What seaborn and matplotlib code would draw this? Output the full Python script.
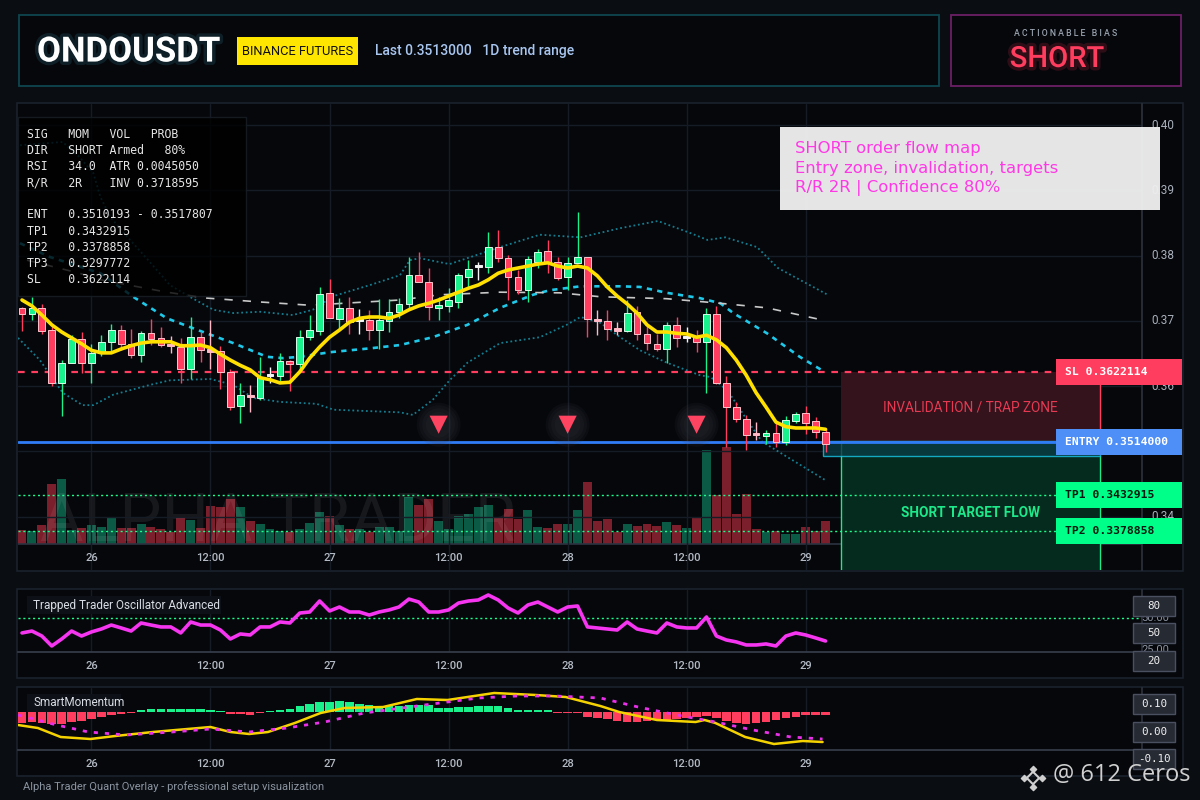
import matplotlib
matplotlib.use('Agg')
import matplotlib.pyplot as plt
import matplotlib.patheffects as pe
from matplotlib import transforms
from matplotlib.patches import Rectangle
import numpy as np
import seaborn as sns

W, H = 1200, 800

# ---- hourly candles (index 0 = 25th 17:00) ----
candle_open = [
    0.3720, 0.3711, 0.3720, 0.3686, 0.3605, 0.3636, 0.3672, 0.3636, 0.3651, 0.3668,
    0.3686, 0.3664, 0.3648, 0.3681, 0.3674, 0.3662, 0.3660, 0.3626, 0.3675, 0.3655,
    0.3654, 0.3622, 0.3570, 0.3585, 0.3582, 0.3615, 0.3616, 0.3639, 0.3634, 0.3676,
    0.3685, 0.3743, 0.3703, 0.3720, 0.3700, 0.3701, 0.3686, 0.3700, 0.3713, 0.3726,
    0.3770, 0.3760, 0.3720, 0.3723, 0.3729, 0.3767, 0.3782, 0.3783, 0.3813, 0.3796,
    0.3767, 0.3748, 0.3790, 0.3807, 0.3790, 0.3767, 0.3789, 0.3798, 0.3703, 0.3700,
    0.3688, 0.3685, 0.3714, 0.3680, 0.3665, 0.3657, 0.3694, 0.3674, 0.3676, 0.3667,
    0.3711, 0.3605, 0.3568, 0.3550, 0.3526, 0.3524, 0.3528, 0.3515, 0.3547, 0.3559,
    0.3547, 0.3530]
candle_high = [
    0.3722, 0.3737, 0.3726, 0.3694, 0.3640, 0.3678, 0.3683, 0.3665, 0.3678, 0.3695,
    0.3694, 0.3688, 0.3685, 0.3703, 0.3690, 0.3677, 0.3674, 0.3706, 0.3683, 0.3701,
    0.3662, 0.3626, 0.3605, 0.3602, 0.3645, 0.3630, 0.3651, 0.3640, 0.3686, 0.3709,
    0.3752, 0.3764, 0.3735, 0.3737, 0.3718, 0.3716, 0.3733, 0.3733, 0.3735, 0.3798,
    0.3806, 0.3781, 0.3737, 0.3750, 0.3774, 0.3793, 0.3790, 0.3836, 0.3839, 0.3801,
    0.3778, 0.3800, 0.3810, 0.3824, 0.3798, 0.3798, 0.3867, 0.3798, 0.3717, 0.3717,
    0.3698, 0.3732, 0.3723, 0.3694, 0.3680, 0.3698, 0.3706, 0.3690, 0.3686, 0.3720,
    0.3723, 0.3616, 0.3576, 0.3556, 0.3545, 0.3533, 0.3543, 0.3555, 0.3561, 0.3570,
    0.3553, 0.3535]
candle_low = [
    0.3685, 0.3701, 0.3680, 0.3600, 0.3554, 0.3636, 0.3620, 0.3605, 0.3646, 0.3652,
    0.3655, 0.3643, 0.3637, 0.3663, 0.3660, 0.3651, 0.3605, 0.3611, 0.3637, 0.3626,
    0.3596, 0.3564, 0.3544, 0.3560, 0.3579, 0.3605, 0.3605, 0.3593, 0.3625, 0.3671,
    0.3678, 0.3704, 0.3688, 0.3680, 0.3680, 0.3671, 0.3657, 0.3683, 0.3704, 0.3719,
    0.3760, 0.3701, 0.3702, 0.3713, 0.3719, 0.3750, 0.3763, 0.3773, 0.3790, 0.3732,
    0.3741, 0.3729, 0.3781, 0.3774, 0.3763, 0.3747, 0.3789, 0.3675, 0.3678, 0.3671,
    0.3678, 0.3683, 0.3671, 0.3655, 0.3654, 0.3635, 0.3660, 0.3668, 0.3652, 0.3590,
    0.3603, 0.3507, 0.3545, 0.3502, 0.3518, 0.3512, 0.3507, 0.3510, 0.3544, 0.3527,
    0.3521, 0.3499]
candle_close = [
    0.3711, 0.3720, 0.3685, 0.3605, 0.3636, 0.3672, 0.3636, 0.3651, 0.3668, 0.3686,
    0.3664, 0.3648, 0.3681, 0.3672, 0.3663, 0.3661, 0.3626, 0.3675, 0.3655, 0.3653,
    0.3622, 0.3568, 0.3587, 0.3583, 0.3614, 0.3616, 0.3639, 0.3634, 0.3676, 0.3686,
    0.3741, 0.3704, 0.3720, 0.3699, 0.3702, 0.3686, 0.3701, 0.3713, 0.3726, 0.3770,
    0.3760, 0.3721, 0.3724, 0.3732, 0.3770, 0.3779, 0.3784, 0.3813, 0.3796, 0.3767,
    0.3747, 0.3795, 0.3806, 0.3790, 0.3766, 0.3789, 0.3798, 0.3703, 0.3700, 0.3688,
    0.3685, 0.3712, 0.3680, 0.3666, 0.3657, 0.3694, 0.3674, 0.3676, 0.3668, 0.3711,
    0.3605, 0.3568, 0.3550, 0.3525, 0.3525, 0.3528, 0.3515, 0.3548, 0.3558, 0.3544,
    0.3530, 0.3512]
volume = [
    14, 13, 19, 60, 65, 14, 16, 19, 17, 27, 16, 16, 20, 17, 15, 12, 26, 24, 16, 38,
    37, 45, 37, 23, 20, 15, 13, 12, 15, 21, 32, 28, 19, 15, 15, 12, 17, 17, 13, 47,
    39, 45, 23, 15, 28, 30, 37, 39, 27, 35, 25, 34, 17, 16, 20, 20, 34, 62, 23, 25,
    12, 20, 18, 20, 18, 22, 19, 16, 27, 94, 49, 97, 30, 50, 15, 12, 13, 10, 10, 17,
    13, 23]

# fast average (yellow), one value per candle
fast_ma = [
    0.3732, 0.3723, 0.3709, 0.3694, 0.3683, 0.3674, 0.3665, 0.3655, 0.3651, 0.3651,
    0.3657, 0.3662, 0.3666, 0.3668, 0.3668, 0.3668, 0.3662, 0.3662, 0.3663, 0.3659,
    0.3649, 0.3640, 0.3632, 0.3625, 0.3613, 0.3610, 0.3605, 0.3606, 0.3622, 0.3643,
    0.3660, 0.3675, 0.3686, 0.3698, 0.3704, 0.3706, 0.3706, 0.3704, 0.3709, 0.3717,
    0.3723, 0.3727, 0.3732, 0.3738, 0.3744, 0.3750, 0.3755, 0.3763, 0.3773, 0.3778,
    0.3781, 0.3784, 0.3787, 0.3789, 0.3784, 0.3781, 0.3784, 0.3781, 0.3769, 0.3752,
    0.3738, 0.3726, 0.3712, 0.3694, 0.3683, 0.3683, 0.3681, 0.3680, 0.3675, 0.3678,
    0.3671, 0.3659, 0.3640, 0.3617, 0.3590, 0.3568, 0.3545, 0.3538, 0.3536, 0.3536,
    0.3536, 0.3534]

# bands read at sample points (candle index, price)
upper_x = [-0.2, 4.1, 5.8, 7.2, 7.9, 8.9, 10.9, 12.9, 14.9, 16.9, 19.3, 21.3, 24.0, 27.3,
           29.3, 31.4, 35.1, 38.1, 39.1, 40.1, 43.1, 48.2, 52.2, 56.3, 60.3, 64.1, 67.3,
           69.1, 70.9, 74.1, 76.2, 78.4, 81.1]
upper_y = [0.3969, 0.3974, 0.3951, 0.3926, 0.3890, 0.3859, 0.3824, 0.3790, 0.3755, 0.3737,
           0.3717, 0.3712, 0.3714, 0.3709, 0.3717, 0.3738, 0.3755, 0.3770, 0.3793, 0.3796,
           0.3787, 0.3813, 0.3832, 0.3828, 0.3842, 0.3853, 0.3835, 0.3824, 0.3828, 0.3813,
           0.3781, 0.3763, 0.3741]
lower_x = [-0.4, 1.8, 4.1, 6.1, 7.2, 9.2, 12.9, 14.9, 19.0, 21.3, 23.3, 26.0, 29.7, 31.4,
           38.1, 39.4, 41.4, 43.1, 44.9, 48.2, 52.2, 54.9, 56.3, 58.3, 60.3, 62.3, 65.0,
           68.3, 69.4, 71.1, 73.1, 74.6, 77.1, 81.1]
lower_y = [0.3674, 0.3640, 0.3590, 0.3571, 0.3571, 0.3587, 0.3602, 0.3609, 0.3611, 0.3602,
           0.3582, 0.3576, 0.3573, 0.3564, 0.3560, 0.3556, 0.3579, 0.3609, 0.3636, 0.3666,
           0.3675, 0.3694, 0.3706, 0.3697, 0.3675, 0.3655, 0.3636, 0.3617, 0.3614, 0.3594,
           0.3548, 0.3515, 0.3492, 0.3455]
mid_x = [-0.2, 2.8, 7.9, 11.2, 14.6, 17.9, 21.3, 24.7, 26.3, 28.0, 31.0, 35.1, 38.1, 41.4,
         44.9, 48.2, 51.5, 53.2, 56.3, 60.3, 62.3, 65.0, 68.3, 70.4, 71.7, 75.1, 78.4, 80.9]
mid_y = [0.3819, 0.3798, 0.3773, 0.3737, 0.3704, 0.3685, 0.3666, 0.3645, 0.3643, 0.3645,
         0.3652, 0.3658, 0.3663, 0.3675, 0.3694, 0.3720, 0.3740, 0.3747, 0.3753, 0.3753,
         0.3752, 0.3743, 0.3735, 0.3727, 0.3712, 0.3681, 0.3645, 0.3622]
slow_x = [0.5, 5.8, 7.9, 14.6, 18.6, 24.0, 29.0, 38.1, 42.1, 48.2, 54.2, 58.3, 65.0, 70.4,
          75.1, 81.1]
slow_y = [0.3793, 0.3773, 0.3763, 0.3744, 0.3735, 0.3729, 0.3724, 0.3732, 0.3740, 0.3744,
          0.3743, 0.3737, 0.3734, 0.3727, 0.3720, 0.3700]

# trade plan levels
sl_price = 0.3622114
entry_price = 0.3514000
tp1_price = 0.3432915
tp2_price = 0.3378858
entry_zone = (0.3493, 0.3516)
signal_idx = [42, 55, 68]
signal_price = 0.3541

# Trapped Trader Oscillator, one value per candle
osc = [
    38.3, 39.8, 35.9, 28.1, 33.6, 39.8, 35.9, 39.1, 41.4, 44.5,
    42.2, 39.8, 46.1, 44.5, 43.0, 43.0, 38.3, 46.9, 44.5, 44.5,
    40.6, 33.6, 37.5, 36.7, 43.0, 43.0, 46.9, 46.1, 53.9, 54.7,
    63.3, 55.5, 58.6, 54.7, 54.7, 52.3, 54.7, 56.3, 58.6, 64.8,
    62.5, 54.7, 54.7, 56.3, 61.7, 63.3, 64.1, 68.0, 64.1, 57.8,
    53.9, 60.2, 62.5, 58.6, 54.7, 58.6, 59.4, 43.0, 42.2, 41.4,
    40.6, 46.9, 41.4, 39.8, 38.3, 46.1, 43.0, 42.2, 42.2, 50.8,
    35.9, 32.8, 31.3, 28.9, 28.9, 29.7, 28.1, 35.9, 38.3, 36.7,
    34.4, 32.0]

# SmartMomentum
mom_hist = [
    -0.011, -0.010, -0.011, -0.012, -0.012, -0.010, -0.009, -0.007, -0.005, -0.003,
    -0.002, -0.001, 0.002, 0.003, 0.003, 0.003, 0.003, 0.003, 0.003, 0.002,
    0.001, -0.002, -0.002, -0.003, -0.001, 0.001, 0.002, 0.003, 0.006, 0.008,
    0.010, 0.010, 0.011, 0.010, 0.008, 0.007, 0.006, 0.006, 0.006, 0.007,
    0.007, 0.007, 0.004, 0.004, 0.005, 0.005, 0.006, 0.006, 0.006, 0.004,
    0.002, 0.002, 0.002, 0.002, -0.001, -0.001, -0.001, -0.005, -0.006, -0.007,
    -0.009, -0.010, -0.010, -0.009, -0.008, -0.008, -0.007, -0.006, -0.005, -0.004,
    -0.006, -0.009, -0.011, -0.012, -0.011, -0.010, -0.008, -0.006, -0.005, -0.003,
    -0.003, -0.003]
mom_fast_x = [-0.4, 1.6, 3.9, 6.9, 9.4, 13.2, 19, 21, 22.9, 24.8, 27.5, 30.1, 32.5, 36.4,
              39.8, 42.9, 47.6, 51.8, 54.8, 58.3, 60.2, 64, 67.9, 68.8, 69.9, 72.9, 75.8,
              78.7, 80.7]
mom_fast_y = [-0.013, -0.016, -0.025, -0.027, -0.024, -0.020, -0.015, -0.020, -0.022, -0.020,
              -0.011, -0.001, 0.004, 0.005, 0.013, 0.012, 0.019, 0.017, 0.015, 0.006,
              0.0, -0.008, -0.010, -0.008, -0.011, -0.025, -0.032, -0.029, -0.030]
mom_slow_x = [-0.4, 3.5, 6.7, 10.5, 15.1, 19, 22.9, 26.7, 30.5, 34.5, 38.3, 42.1, 46, 49.9,
              53.7, 58.3, 62.1, 66, 69.9, 73.7, 77.5, 80.7]
mom_slow_y = [-0.003, -0.013, -0.020, -0.023, -0.020, -0.017, -0.020, -0.016, -0.010, -0.001,
              0.004, 0.009, 0.014, 0.016, 0.016, 0.014, 0.005, -0.003, -0.010, -0.018,
              -0.025, -0.027]

tick_pos = [7, 19, 31, 43, 55, 67, 79]
tick_labels = ['26', '12:00', '27', '12:00', '28', '12:00', '29']
price_ticks = [0.34, 0.35, 0.36, 0.37, 0.38, 0.39, 0.40]

info_lines = [
    'SIG   MOM   VOL   PROB',
    'DIR   SHORT Armed   80%',
    'RSI   34.0  ATR 0.0045050',
    'R/R   2R    INV 0.3718595',
    '',
    'ENT   0.3510193 - 0.3517807',
    'TP1   0.3432915',
    'TP2   0.3378858',
    'TP3   0.3297772',
    'SL    0.3622114',
]
note_lines = ['SHORT order flow map', 'Entry zone, invalidation, targets',
              'R/R 2R | Confidence 80%']

# ---- style ----
BG = '#0a0d12'
PANEL = '#05070b'
GRID = '#161c25'
GREEN = '#19f28c'
RED = '#ff3d5e'
MONO = 'DejaVu Sans Mono'

sns.set_theme(style='dark', rc={'figure.facecolor': BG, 'axes.facecolor': PANEL,
                                'savefig.facecolor': BG})
plt.rcParams['font.family'] = ['Roboto', 'DejaVu Sans']


def fx(px):
    return px / W


def fy(py):
    return 1 - py / H


fig = plt.figure(figsize=(12, 8), dpi=100)

# background layer in pixel units
ax_bg = fig.add_axes([0, 0, 1, 1], zorder=-10)
ax_bg.set_xlim(0, W)
ax_bg.set_ylim(H, 0)
ax_bg.axis('off')
for (x0, y0, x1, y1) in [(17, 103, 1183, 571), (17, 589, 1183, 678), (17, 687, 1183, 776)]:
    ax_bg.add_patch(Rectangle((x0, y0), x1 - x0, y1 - y0, facecolor=PANEL, edgecolor='#1b222c', lw=1.2))
ax_bg.add_patch(Rectangle((19, 15), 920, 71, facecolor=PANEL, edgecolor='#0e4650', lw=1.3))
ax_bg.add_patch(Rectangle((951, 15), 230, 71, facecolor=PANEL, edgecolor='#6c1f66', lw=1.3))

# ---- main price panel ----
ymin, ymax = 0.33185, 0.40322
ax = fig.add_axes([fx(18), fy(570), (1142 - 18) / W, (570 - 104) / H])
ax.set_facecolor(PANEL)
ax.set_xlim(-0.403, 112.9)
ax.set_ylim(ymin, ymax)
ax.set_xticks([])
ax.set_yticks([])
for s in ['top', 'left', 'bottom']:
    ax.spines[s].set_visible(False)
ax.spines['right'].set_color('#2a303b')
for p in price_ticks:
    ax.axhline(p, color=GRID, lw=1, zorder=0)
for t in tick_pos:
    ax.axvline(t, color=GRID, lw=1, zorder=0)

blend_fd = transforms.blended_transform_factory(fig.transFigure, ax.transData)
blend_df = transforms.blended_transform_factory(ax.transData, fig.transFigure)
px_to_price = (ymax - ymin) / 466.0

# volume on a twin axis
idx = np.arange(len(candle_open))
up = np.array(candle_close) >= np.array(candle_open)
ax_vol = ax.twinx()
ax_vol.set_ylim(-26, 440)
ax_vol.set_yticks([])
for s in ax_vol.spines.values():
    s.set_visible(False)
ax_vol.bar(idx, volume, width=0.9, color=np.where(up, '#0b5a46', '#7a1f2b'),
           edgecolor='none', linewidth=0, zorder=1)
ax_vol.axhline(0, color='#2c3340', lw=1.2)
ax_vol.text(fx(40), fy(541), 'ALPHA TRADER', transform=fig.transFigure, fontsize=48,
            color='white', alpha=0.07, va='baseline', ha='left')

ax.set_zorder(ax_vol.get_zorder() + 1)
ax.patch.set_visible(False)
ax_vol.set_facecolor(PANEL)

# zones
ax.add_patch(Rectangle((82.56, entry_price), 26.1, sl_price - entry_price,
                       facecolor='#34131d', edgecolor='none', zorder=1))
ax.add_patch(Rectangle((82.56, ymin), 26.1, entry_price - ymin,
                       facecolor='#042b1d', edgecolor='none', zorder=1))
ax.plot([108.7, 108.7], [entry_price, sl_price], color=RED, lw=1, zorder=2)
ax.plot([82.56, 82.56], [ymin, entry_price], color='#1de88a', lw=1, zorder=2)
ax.plot([108.7, 108.7], [ymin, entry_zone[0]], color='#1de88a', lw=1, zorder=2)
ax.add_patch(Rectangle((80.7, entry_zone[0]), 28.0, entry_zone[1] - entry_zone[0],
                       facecolor='#0a3b45', edgecolor='#19c8e8', lw=1, alpha=0.8, zorder=3))
ax.text(95.6, 0.3568, 'INVALIDATION / TRAP ZONE', color='#e63a52', fontsize=9.8,
        ha='center', va='center', zorder=4)
ax.text(95.6, 0.3406, 'SHORT TARGET FLOW', color='#1de88a', fontsize=9.8, weight='bold',
        ha='center', va='center', zorder=4)

# bands and averages
sns.lineplot(x=upper_x, y=upper_y, ax=ax, color='#167d90', lw=1.3, linestyle=(0, (1, 1.5)),
             estimator=None, sort=False, zorder=3)
sns.lineplot(x=lower_x, y=lower_y, ax=ax, color='#167d90', lw=1.3, linestyle=(0, (1, 1.5)),
             estimator=None, sort=False, zorder=3)
sns.lineplot(x=mid_x, y=mid_y, ax=ax, color='#1fc8e8', lw=1.9, linestyle=(0, (2, 2)),
             estimator=None, sort=False, zorder=3)
sns.lineplot(x=slow_x, y=slow_y, ax=ax, color='#c8c8c8', lw=1.2, linestyle=(0, (5, 6)),
             estimator=None, sort=False, zorder=3)

# level lines
ax.plot([-0.403, 104.2], [sl_price, sl_price], color=RED, lw=1.6, ls=(0, (3, 3)), zorder=4)
ax.plot([-0.403, 104.2], [entry_price, entry_price], color='#2f7cf6', lw=2, zorder=4)
for tp in (tp1_price, tp2_price):
    ax.plot([-0.403, 104.2], [tp, tp], color='#1aff8c', lw=1, ls=(0, (1.5, 2)), zorder=4)

# candles
for i in idx:
    o, h, l, c = candle_open[i], candle_high[i], candle_low[i], candle_close[i]
    doji = abs(c - o) < 0.0004
    if doji:
        col = '#f4f4f4' if c >= o else '#ffb8c6'
        edge = col
    else:
        col = GREEN if c >= o else RED
        edge = '#d8ffe9' if c >= o else '#ffc2cc'
    ax.vlines(i, l, h, color=col, lw=1, zorder=5)
    body = max(abs(c - o), 0.00035)
    ax.bar(i, body, bottom=min(o, c), width=0.68, color=col, edgecolor=edge, lw=0.7, zorder=6)

sns.lineplot(x=idx, y=fast_ma, ax=ax, color='#ffe000', lw=2.6, estimator=None, sort=False, zorder=7)

# signal markers with a soft glow
for k in range(4):
    ax.scatter(signal_idx, [signal_price] * 3, s=1000 - k * 220, color='#3a3c46', alpha=0.12,
               edgecolor='none', zorder=7)
ax.scatter(signal_idx, [signal_price] * 3, marker='v', s=170, color='#ff4461',
           edgecolor='none', zorder=8)
ax.set_xlabel('')
ax.set_ylabel('')

# x labels inside the main panel
for t, lab in zip(tick_pos, tick_labels):
    ax.text(t, fy(558), lab, transform=blend_df, ha='center', va='center', color='#b4bac4',
            fontsize=8, weight='medium', zorder=9)

# price labels on the right
for p in price_ticks:
    ax.text(fx(1151), p, f'{p:.2f}', transform=blend_fd, ha='left', va='center', color='#a9b0bb',
            fontsize=8.5, clip_on=False, zorder=9)

for price, lab, fc, tc in [(sl_price, 'SL 0.3622114', RED, 'white'),
                           (entry_price, 'ENTRY 0.3514000', '#4d8ef7', 'white'),
                           (tp1_price, 'TP1 0.3432915', '#00ff88', '#051a10'),
                           (tp2_price, 'TP2 0.3378858', '#00ff88', '#051a10')]:
    hh = 26 * px_to_price
    ax.add_patch(Rectangle((fx(1056), price - hh / 2), 126 / W, hh, transform=blend_fd,
                           facecolor=fc, edgecolor='none', clip_on=False, zorder=10))
    ax.text(fx(1065), price, lab, transform=blend_fd, ha='left', va='center', color=tc,
            family=MONO, weight='bold', fontsize=8.2, clip_on=False, zorder=11)

# ---- oscillator panel ----
ax_osc = fig.add_axes([fx(18), fy(652), 1124 / W, 62 / H])
ax_osc.set_facecolor(PANEL)
ax_osc.set_xlim(-0.403, 112.9)
ax_osc.set_ylim(23.4, 71.9)
for t in tick_pos:
    ax_osc.axvline(t, color=GRID, lw=1, zorder=0)
ax_osc.axhline(50, color='#1aff8c', lw=1, ls=(0, (1.5, 2)), zorder=1)
sns.lineplot(x=idx, y=osc, ax=ax_osc, color='#f535f0', lw=2.6, estimator=None, sort=False, zorder=3)

# ---- SmartMomentum panel ----
ax_sm = fig.add_axes([fx(18), fy(750), 1124 / W, 62 / H])
ax_sm.set_facecolor(PANEL)
ax_sm.set_xlim(-0.403, 112.9)
ax_sm.set_ylim(-0.038, 0.024)
for t in tick_pos:
    ax_sm.axvline(t, color=GRID, lw=1, zorder=0)
ax_sm.bar(idx, mom_hist, width=0.86, color=np.where(np.array(mom_hist) >= 0, GREEN, RED),
          edgecolor='none', linewidth=0, zorder=2)
sns.lineplot(x=mom_fast_x, y=mom_fast_y, ax=ax_sm, color='#f5d300', lw=1.8, estimator=None,
             sort=False, zorder=3)
sns.lineplot(x=mom_slow_x, y=mom_slow_y, ax=ax_sm, color='#e830e8', lw=2, linestyle=(0, (1.5, 2.5)),
             estimator=None, sort=False, zorder=3)

for a, ylab in [(ax_osc, 666), (ax_sm, 764)]:
    a.set_xticks([])
    a.set_yticks([])
    a.set_xlabel('')
    a.set_ylabel('')
    for s in ['top', 'left']:
        a.spines[s].set_visible(False)
    a.spines['bottom'].set_color('#363d4a')
    a.spines['right'].set_color('#2a303b')
    bl = transforms.blended_transform_factory(a.transData, fig.transFigure)
    for t, lab in zip(tick_pos, tick_labels):
        a.text(t, fy(ylab), lab, transform=bl, ha='center', va='center', color='#b4bac4',
               fontsize=8, weight='medium', clip_on=False)

bl_osc = transforms.blended_transform_factory(fig.transFigure, ax_osc.transData)
for v in (50, 25):
    ax_osc.text(fx(1141), v, f'{v:.2f}', transform=bl_osc, ha='left', va='center',
                color='#8d94a0', fontsize=8, clip_on=False)

# ---- overlay layer in pixel units ----
ax_top = fig.add_axes([0, 0, 1, 1], zorder=20)
ax_top.set_xlim(0, W)
ax_top.set_ylim(H, 0)
ax_top.axis('off')

# header
ax_top.text(37, 52, 'ONDOUSDT', color='white', fontsize=25, weight='bold', va='center', ha='left',
            path_effects=[pe.withStroke(linewidth=5, foreground='#16303a', alpha=0.6)])
ax_top.add_patch(Rectangle((237, 37), 121, 28, facecolor='#ffe600', edgecolor='none'))
ax_top.text(297.5, 51.5, 'BINANCE FUTURES', color='#111111', fontsize=9.3, ha='center', va='center')
ax_top.text(375, 51, 'Last 0.3513000   1D trend range', color='#a8c5f0', fontsize=10,
            weight='medium', ha='left', va='center')
ax_top.text(1066, 34, 'A C T I O N A B L E   B I A S', color='#9aa3b0', fontsize=6.3,
            weight='medium', ha='center', va='center')
ax_top.text(1057, 59, 'SHORT', color=RED, fontsize=21, weight='medium', ha='center', va='center',
            path_effects=[pe.withStroke(linewidth=5, foreground='#5a1424', alpha=0.5)])

# info box
ax_top.add_patch(Rectangle((18, 117), 228, 179, facecolor='black', edgecolor='#1a1f27',
                           lw=1, alpha=0.8))
y0 = 134
for line in info_lines:
    ax_top.text(27, y0, line, color='#e6e6e6', family=MONO, fontsize=8.3, ha='left', va='center')
    y0 += 16.2

# note box
ax_top.add_patch(Rectangle((780, 127), 380, 83, facecolor='#eeeeee', edgecolor='none', alpha=0.97))
for k, line in enumerate(note_lines):
    ax_top.text(795, 148 + 20 * k, line, color='#ff38e6', family='DejaVu Sans', fontsize=11.8,
                ha='left', va='center')

# sub-panel titles and level boxes
ax_top.add_patch(Rectangle((27, 596), 194, 18, facecolor='#0d1016', edgecolor='none'))
ax_top.text(33, 605, 'Trapped Trader Oscillator Advanced', color='#d8dce4', fontsize=8.5,
            ha='left', va='center')
ax_top.add_patch(Rectangle((27, 694), 94, 18, facecolor='#0d1016', edgecolor='none'))
ax_top.text(33, 703, 'SmartMomentum', color='#d8dce4', fontsize=8.5, ha='left', va='center')
for lab, yy in [('80', 606), ('50', 633), ('20', 661), ('0.10', 704), ('0.00', 732), ('-0.10', 759)]:
    ax_top.add_patch(Rectangle((1133, yy - 10), 42, 20, facecolor='#262a33', edgecolor='#4a5060', lw=1))
    ax_top.text(1154, yy, lab, color='#f0f0f0', family=MONO, fontsize=7.8, ha='center', va='center')

# footer
ax_top.text(23, 787, 'Alpha Trader Quant Overlay - professional setup visualization', color='#8a94a0',
            fontsize=8, ha='left', va='center')
ax_top.scatter([1033], [778], marker='D', s=40, facecolor='none', edgecolor='#cfcfcf', lw=1.5)
ax_top.scatter([1024, 1042, 1033, 1033], [778, 778, 769, 787], marker='D', s=10, color='#cfcfcf')
ax_top.text(1053, 775, '@ 612 Ceros', color='#d0d0d0', family='Open Sans', fontsize=17,
            ha='left', va='center')

fig.savefig('out.png', dpi=100, facecolor=BG)
